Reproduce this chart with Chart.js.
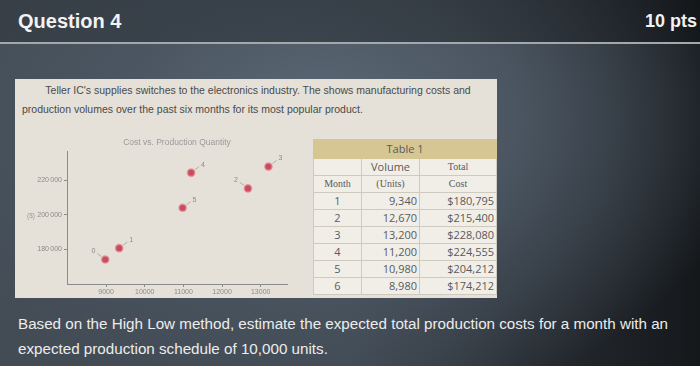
<!DOCTYPE html>
<html>
<head>
<meta charset="utf-8">
<script src="https://cdn.jsdelivr.net/npm/chart.js@4.4.0/dist/chart.umd.min.js"></script>
<style>
  body {
    margin: 0;
    width: 700px;
    height: 366px;
    overflow: hidden;
    position: relative;
    font-family: "Liberation Sans", Arial, sans-serif;
    background:
      radial-gradient(ellipse 430px 300px at 320px 120px, #5c6875 0%, #4b5662 45%, rgba(45,51,58,0) 100%),
      linear-gradient(90deg, #434c55 0%, #3f4851 50%, #272c32 75%, #15181b 100%);
  }
  #head {
    position: absolute; left: 0; top: 0; width: 700px; height: 42px;
    background: linear-gradient(90deg, rgba(30,34,38,0.35), rgba(10,12,14,0.4));
    border-bottom: 2px solid #a3a8ac;
  }
  #q { position: absolute; left: 18px; top: 10px; color: #f2f2f2; font-weight: bold; font-size: 20px; }
  #pts { position: absolute; left: 645px; top: 11px; color: #f2f2f2; font-weight: bold; font-size: 18px; white-space: nowrap; }
  #box {
    position: absolute; left: 15px; top: 79px; width: 482px; height: 219px;
    background: #e5e1d9;
  }
  #para { position: absolute; left: 22px; top: 81px; width: 456px; font-size: 10.5px; line-height: 19px; color: #4a4a4a; }
  #chartWrap { position: absolute; left: 20px; top: 130px; width: 282px; height: 168px; }
  #tbl {
    position: absolute; left: 313px; top: 139px; border-collapse: collapse;
    background: #f1eee8; color: #5a5a5a; font-family: "Open Sans", sans-serif; font-size: 11px;
  }
  #tbl td { border: 1px solid #cfcac0; padding: 0 2px; height: 16px; line-height: 16px; }
  #tbl .cap td { background: #d6c694; text-align: center; height: 18px; border-color: #d6c694; }
  #tbl .serif { font-family: "Liberation Serif", serif; font-size: 10px; }
  #tbl .c { text-align: center; }
  #tbl .r { text-align: right; }
  #bottom { position: absolute; left: 18px; top: 311px; width: 680px; font-size: 15.2px; line-height: 25px; color: #ececec; }
</style>
</head>
<body>
<div id="head"></div>
<div id="q">Question 4</div>
<div id="pts">10 pts</div>
<div id="box"></div>
<div id="para">&nbsp;&nbsp;&nbsp;&nbsp;&nbsp;&nbsp;&nbsp;&nbsp;Teller IC's supplies switches to the electronics industry. The shows manufacturing costs and production volumes over the past six months for its most popular product.</div>
<div id="chartWrap"><canvas id="chart" width="282" height="168"></canvas></div>
<table id="tbl"></table>
<div id="bottom">Based on the High Low method, estimate the expected total production costs for a month with an expected production schedule of 10,000 units.</div>

<script>
// dati della tabella (mesi 1-6)
const months = ['1', '2', '3', '4', '5', '6'];
const volume = [9340, 12670, 13200, 11200, 10980, 8980];
const totalCost = [180795, 215400, 228080, 224555, 204212, 174212];
// etichette dei punti nel grafico (come nell'originale)
const pointLabels = ['1', '2', '3', '4', '5', '0'];
const xTicks = [9000, 10000, 11000, 12000, 13000];
const yTicks = [180000, 200000, 220000];

// costruisce la tabella
function buildTable() {
    const tbl = document.getElementById('tbl');
    let html = '<colgroup><col style="width:48px"><col style="width:58px"><col style="width:77px"></colgroup>';
    html += '<tr class="cap"><td colspan="3">Table 1</td></tr>';
    html += '<tr><td></td><td class="c">Volume</td><td class="c serif">Total</td></tr>';
    html += '<tr><td class="c serif">Month</td><td class="c serif">(Units)</td><td class="c serif">Cost</td></tr>';
    months.forEach((m, i) => {
        html += `<tr><td class="c">${m}</td><td class="r">${volume[i].toLocaleString('en-US')}</td>` +
                `<td class="r">$${totalCost[i].toLocaleString('en-US')}</td></tr>`;
    });
    tbl.innerHTML = html;
}
buildTable();

// etichette con linea guida vicino ai punti
const labelPlugin = {
    id: 'pointLabels',
    afterDatasetsDraw(chart) {
        const ctx = chart.ctx;
        const meta = chart.getDatasetMeta(0);
        ctx.save();
        ctx.font = '7px "Liberation Sans", sans-serif';
        ctx.fillStyle = '#8a8a8a';
        ctx.strokeStyle = '#a0a0a0';
        ctx.lineWidth = 0.8;
        meta.data.forEach((pt, i) => {
            const lab = pointLabels[i];
            const left = lab === '0' || lab === '2';
            const dx = left ? -1 : 1;
            ctx.beginPath();
            ctx.moveTo(pt.x + dx * 4, pt.y - 3);
            ctx.lineTo(pt.x + dx * 8, pt.y - 6);
            ctx.stroke();
            ctx.textAlign = left ? 'right' : 'left';
            ctx.textBaseline = 'middle';
            ctx.fillText(lab, pt.x + dx * 10, pt.y - 8);
        });
        // titolo e etichetta asse y
        const area = chart.chartArea;
        ctx.textAlign = 'center';
        ctx.fillStyle = '#9a9a9a';
        ctx.font = '8.5px "Liberation Sans", sans-serif';
        ctx.fillText('Cost vs. Production Quantity', (area.left + area.right) / 2, 13);
        ctx.font = '6.5px "Liberation Sans", sans-serif';
        ctx.fillText('($)', 11, 86);
        ctx.restore();
    }
};

const axisGrey = '#8c8c8c';

new Chart(document.getElementById('chart'), {
    type: 'scatter',
    data: {
        datasets: [{
            data: volume.map((v, i) => ({ x: v, y: totalCost[i] })),
            backgroundColor: 'rgba(198, 62, 84, 0.92)',
            borderColor: 'rgba(226, 140, 150, 0.8)',
            borderWidth: 1.5,
            pointRadius: 3.6
        }]
    },
    options: {
        responsive: false,
        animation: false,
        layout: { padding: { top: 21, right: 15, left: 0, bottom: 0 } },
        plugins: { legend: { display: false }, tooltip: { enabled: false } },
        scales: {
            x: {
                type: 'linear',
                min: 7990,
                max: 13680,
                afterBuildTicks: s => { s.ticks = xTicks.map(v => ({ value: v })); },
                afterFit: s => { s.height = 14; },
                grid: { drawOnChartArea: false, tickLength: 3, color: axisGrey },
                border: { color: axisGrey, width: 1 },
                ticks: { color: '#8a8a8a', font: { size: 7 }, padding: 1, maxRotation: 0, callback: v => String(v) }
            },
            y: {
                type: 'linear',
                min: 160000,
                max: 237100,
                afterBuildTicks: s => { s.ticks = yTicks.map(v => ({ value: v })); },
                afterFit: s => { s.width = 47; },
                grid: { drawOnChartArea: false, tickLength: 3, color: axisGrey },
                border: { color: axisGrey, width: 1 },
                ticks: { color: '#8a8a8a', font: { size: 7 }, padding: 2,
                         callback: v => String(v).replace(/(\d{3})$/, '\u2009$1') }
            }
        }
    },
    plugins: [labelPlugin]
});
</script>
</body>
</html>
